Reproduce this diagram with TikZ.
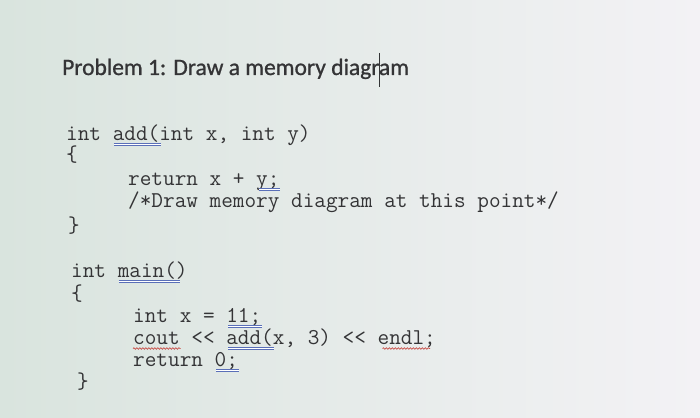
\documentclass[tikz,border=0pt]{standalone}
\usepackage{fontspec}
\setmainfont{Carlito}
\newfontfamily\titlefont{Carlito}[FakeBold=0.9]
\usetikzlibrary{decorations.pathmorphing}
\definecolor{ink}{HTML}{343436}
\definecolor{bgl}{HTML}{D9E4DE}
\definecolor{bgr}{HTML}{F3F2F5}
\definecolor{ublue}{HTML}{5A6FB8}
\definecolor{ured}{HTML}{C8504A}
\tikzset{
  title/.style={anchor=base west, inner sep=0pt, text=ink, font=\titlefont\fontsize{23.5}{28}\selectfont},
  code/.style={anchor=base west, inner sep=0pt, text=ink, font=\ttfamily\fontsize{22.6}{26}\selectfont},
  dbl/.style={draw=ublue, line width=0.9pt, double distance=1.2pt},
  squig/.style={draw=ured, line width=0.7pt, decorate, decoration={snake, amplitude=0.8pt, segment length=3pt}}
}
\begin{document}
\begin{tikzpicture}[x=1pt,y=-1pt]
\useasboundingbox (0,0) rectangle (700,417);
\shade[left color=bgl, right color=bgr] (0,0) rectangle (700,417);
\def\cw{11.88}
% title
\node[title] (t) at (62,75) {Problem 1: Draw a memory diagram};
\coordinate (cur) at ([xshift=-29.5pt, yshift=22pt]t.base east);
\draw[ink, line width=0.8pt] (cur) -- ++(0,-34pt);
% add function
\node[code] (l1) at (66,140) {int add(int x, int y)};
\node[code] (l2) at (66,161) {\{};
\node[code] (l3) at (128,185) {return x + y;};
\node[code] (l4) at (128,207) {/*Draw memory diagram at this point*/};
\node[code] (l5) at (68,232) {\}};
% main function
\node[code] (m1) at (71,277) {int main()};
\node[code] (m2) at (71,300) {\{};
\node[code] (m3) at (133,322) {int x = 11;};
\node[code] (m4) at (133,344) {cout << add(x, 3) << endl;};
\node[code] (m5) at (133,366) {return 0;};
\node[code] (m6) at (77,388) {\}};
% editor underlines
\draw[dbl] ([xshift=4*\cw pt, yshift=-4.5pt]l1.base west) -- ++(4*\cw pt,0);
\draw[dbl] ([xshift=11*\cw pt, yshift=-4.5pt]l3.base west) -- ++(1.8*\cw pt,0);
\draw[dbl] ([xshift=4*\cw pt, yshift=-4.5pt]m1.base west) -- ++(5.2*\cw pt,0);
\draw[dbl] ([xshift=8*\cw pt, yshift=-4.5pt]m3.base west) -- ++(2.9*\cw pt,0);
\draw[dbl] ([xshift=8*\cw pt, yshift=-4.5pt]m4.base west) -- ++(3.9*\cw pt,0);
\draw[dbl] ([xshift=7*\cw pt, yshift=-4.5pt]m5.base west) -- ++(1.9*\cw pt,0);
\draw[squig] ([yshift=-4.5pt]m4.base west) -- ++(4*\cw pt,0);
\draw[squig] ([xshift=21*\cw pt, yshift=-4.5pt]m4.base west) -- ++(4*\cw pt,0);
\end{tikzpicture}
\end{document}
